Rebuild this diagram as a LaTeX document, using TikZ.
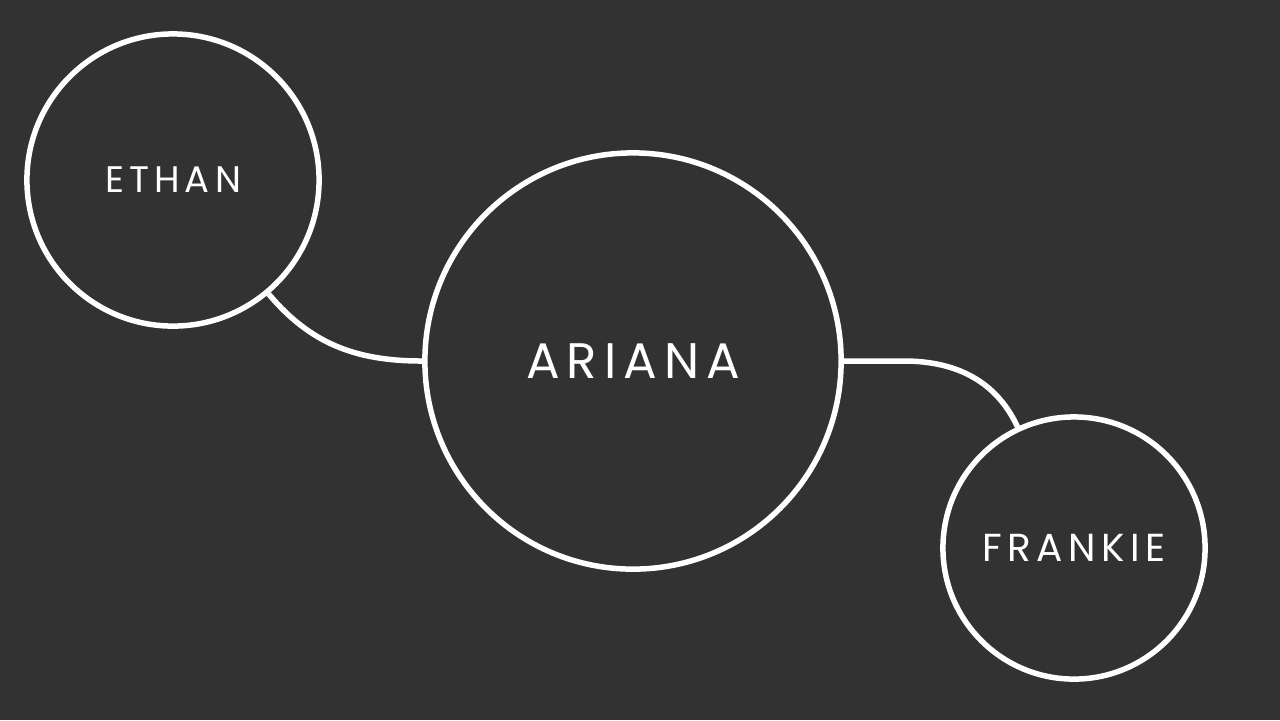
\documentclass[tikz,border=0pt]{standalone}
\usepackage{fontspec}
\usepackage{xcolor}
\usepackage{tikz}
\usetikzlibrary{arrows}
\newfontfamily\namefont[LetterSpace=14]{Poppins}
\definecolor{bg}{HTML}{323232}
\begin{document}
\begin{tikzpicture}[x=0.01cm,y=-0.01cm,
	person/.style={circle,draw=white,line width=0.055cm,text=white,inner sep=0pt,font=\namefont},
	link/.style={draw=white,line width=0.055cm}]
	 \fill[bg] (0,0) rectangle (1280,720);
	 \node[person,minimum size=2.92cm,font=\namefont\fontsize{10.5}{12}\selectfont] (ethan) at (173,180) {ETHAN};
	 \node[person,minimum size=4.16cm,font=\namefont\fontsize{14.2}{16}\selectfont] (ariana) at (633,361) {\raisebox{-0.1cm}{ARIANA}};
	 \node[person,minimum size=2.62cm,font=\namefont\fontsize{11.1}{13}\selectfont] (frankie) at (1074,548) {FRANKIE};
	 \draw[link] (ethan.-50) to[out=-50,in=180] (ariana.west);
	 \draw[link] (ariana.east) -- ++(60,0) to[out=0,in=115] (frankie.115);
	 \end{tikzpicture}
\end{document}
